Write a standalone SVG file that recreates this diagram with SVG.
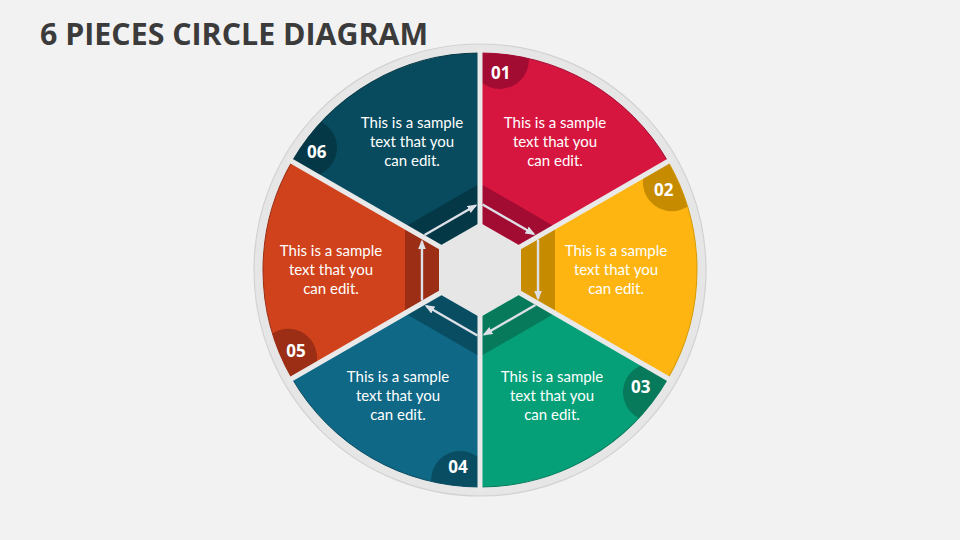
<svg xmlns="http://www.w3.org/2000/svg" width="960" height="540" viewBox="0 0 960 540">
<style>
.title{font-family:"Open Sans","Liberation Sans",sans-serif;font-weight:700;font-size:30.5px;fill:#3b3b3b}
.body{font-family:Lato,"Open Sans","Liberation Sans",sans-serif;font-size:15px;fill:#ffffff;text-anchor:middle}
.num{font-family:"Open Sans","Liberation Sans",sans-serif;font-weight:700;font-size:17px;fill:#ffffff;text-anchor:middle}
.sep{stroke:#e9e9e9;stroke-width:5;fill:none}
.arrow{stroke:#dde0e7;stroke-width:2.4;fill:none;marker-end:url(#ah)}
</style>
<defs>
<path id="wedge" d="M480,270 L480,53 A217,217 0 0 1 667.93,161.5 Z"/>
<polygon id="band" points="480,222.66 521,246.33 555,226.7 480,183.4"/>
<clipPath id="wclip" clipPathUnits="userSpaceOnUse"><use href="#wedge"/></clipPath>
<marker id="ah" markerUnits="userSpaceOnUse" markerWidth="10" markerHeight="8" refX="8" refY="4" orient="auto">
<path d="M0,0 L10,4 L0,8 Z" fill="#dde0e7"/>
</marker>
</defs>
<rect width="960" height="540" fill="#f2f2f2"/>
<text class="title" x="40" y="45" textLength="388" lengthAdjust="spacingAndGlyphs">6 PIECES CIRCLE DIAGRAM</text>
<circle id="ring" cx="480" cy="270" r="226" fill="#e6e6e6" stroke="#d2d2d2" stroke-width="1.2"/>

<g id="seg01">
<g>
<use href="#wedge" fill="#d7163f" stroke="#a20c33" stroke-width="1"/>
<use href="#band" fill="#a20c33"/>
<circle cx="499.9" cy="59.9" r="29" fill="#a20c33" clip-path="url(#wclip)"/>
</g>
<text class="num" x="500.7" y="79.3">01</text>
<text class="body" x="555" y="128">This is a sample</text>
<text class="body" x="555" y="147">text that you</text>
<text class="body" x="555" y="166">can edit.</text>
</g>

<g id="seg02">
<g transform="rotate(60 480 270)">
<use href="#wedge" fill="#feb511" stroke="#d49b00" stroke-width="1"/>
<use href="#band" fill="#c78b00"/>
<circle cx="499.9" cy="59.9" r="29" fill="#c78b00" clip-path="url(#wclip)"/>
</g>
<text class="num" x="663.7" y="196">02</text>
<text class="body" x="616" y="256">This is a sample</text>
<text class="body" x="616" y="275">text that you</text>
<text class="body" x="616" y="294">can edit.</text>
</g>

<g id="seg03">
<g transform="rotate(120 480 270)">
<use href="#wedge" fill="#05a078" stroke="#077a5b" stroke-width="1"/>
<use href="#band" fill="#077a5b"/>
<circle cx="499.9" cy="59.9" r="29" fill="#077a5b" clip-path="url(#wclip)"/>
</g>
<text class="num" x="640.7" y="392.7">03</text>
<text class="body" x="552" y="382">This is a sample</text>
<text class="body" x="552" y="401">text that you</text>
<text class="body" x="552" y="420">can edit.</text>
</g>

<g id="seg04">
<g transform="rotate(180 480 270)">
<use href="#wedge" fill="#0e6886" stroke="#094d63" stroke-width="1"/>
<use href="#band" fill="#094d63"/>
<circle cx="499.9" cy="59.9" r="29" fill="#094d63" clip-path="url(#wclip)"/>
</g>
<text class="num" x="458" y="473">04</text>
<text class="body" x="398" y="382">This is a sample</text>
<text class="body" x="398" y="401">text that you</text>
<text class="body" x="398" y="420">can edit.</text>
</g>

<g id="seg05">
<g transform="rotate(240 480 270)">
<use href="#wedge" fill="#d0421b" stroke="#9b2e14" stroke-width="1"/>
<use href="#band" fill="#9b2e14"/>
<circle cx="499.9" cy="59.9" r="29" fill="#9b2e14" clip-path="url(#wclip)"/>
</g>
<text class="num" x="296" y="357.3">05</text>
<text class="body" x="331" y="256">This is a sample</text>
<text class="body" x="331" y="275">text that you</text>
<text class="body" x="331" y="294">can edit.</text>
</g>

<g id="seg06">
<g transform="rotate(300 480 270)">
<use href="#wedge" fill="#084b5e" stroke="#053847" stroke-width="1"/>
<use href="#band" fill="#053847"/>
<circle cx="499.9" cy="59.9" r="29" fill="#053847" clip-path="url(#wclip)"/>
</g>
<text class="num" x="316.7" y="158.3">06</text>
<text class="body" x="412" y="128">This is a sample</text>
<text class="body" x="412" y="147">text that you</text>
<text class="body" x="412" y="166">can edit.</text>
</g>

<g id="separators">
<line class="sep" x1="480" y1="270" x2="480" y2="48"/>
<line class="sep" x1="480" y1="270" x2="480" y2="48" transform="rotate(60 480 270)"/>
<line class="sep" x1="480" y1="270" x2="480" y2="48" transform="rotate(120 480 270)"/>
<line class="sep" x1="480" y1="270" x2="480" y2="48" transform="rotate(180 480 270)"/>
<line class="sep" x1="480" y1="270" x2="480" y2="48" transform="rotate(240 480 270)"/>
<line class="sep" x1="480" y1="270" x2="480" y2="48" transform="rotate(300 480 270)"/>
</g>
<polygon id="hub" points="480,222.66 521,246.33 521,293.67 480,317.34 439,293.67 439,246.33" fill="#e6e6e6"/>

<g id="connectors">
<line class="arrow" x1="482.6" y1="204.5" x2="533.7" y2="234"/>
<line class="arrow" x1="482.6" y1="204.5" x2="533.7" y2="234" transform="rotate(60 480 270)"/>
<line class="arrow" x1="482.6" y1="204.5" x2="533.7" y2="234" transform="rotate(120 480 270)"/>
<line class="arrow" x1="482.6" y1="204.5" x2="533.7" y2="234" transform="rotate(180 480 270)"/>
<line class="arrow" x1="482.6" y1="204.5" x2="533.7" y2="234" transform="rotate(240 480 270)"/>
<line class="arrow" x1="482.6" y1="204.5" x2="533.7" y2="234" transform="rotate(300 480 270)"/>
</g>
</svg>
